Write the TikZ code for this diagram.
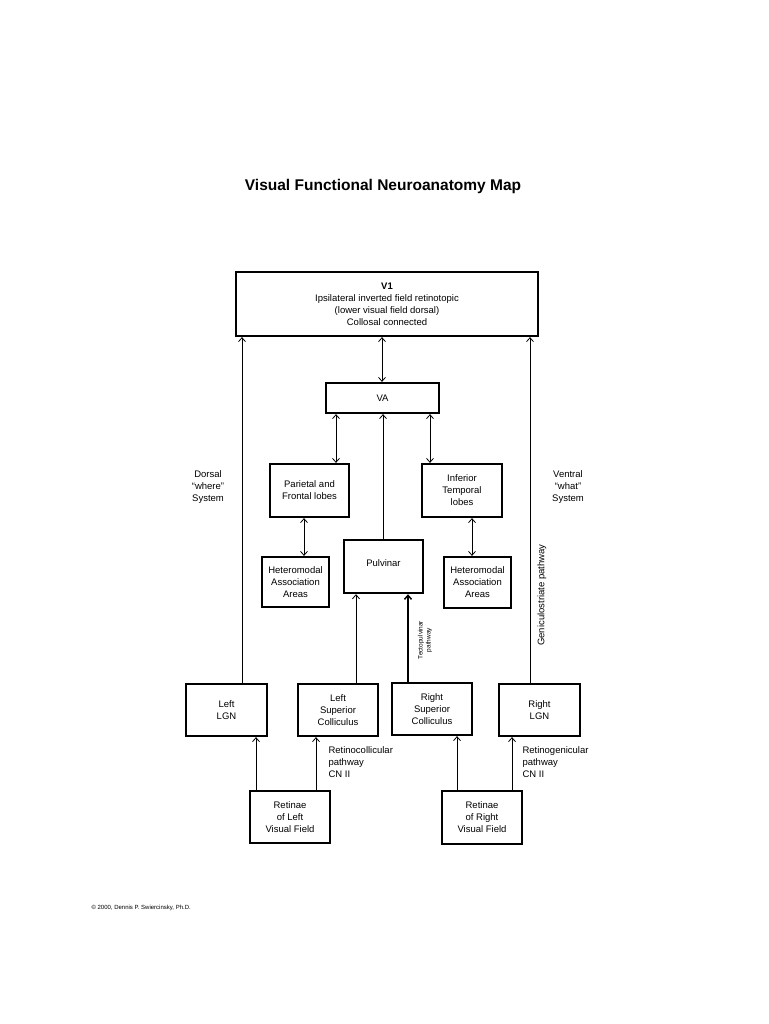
\documentclass[tikz,border=0pt]{standalone}
\usepackage{fontspec}
\setmainfont{Liberation Sans}
\usetikzlibrary{arrows.meta}
\begin{document}
\begin{tikzpicture}[x=1pt,y=-1pt,
  box/.style={draw,line width=2.2pt,align=center,font=\fontsize{9.5}{12}\selectfont},
  lbl/.style={align=center,font=\fontsize{9.5}{12}\selectfont},
  arr/.style={-{Straight Barb[length=4pt,width=7pt]},line width=0.8pt},
  darr/.style={{Straight Barb[length=4pt,width=7pt]}-{Straight Barb[length=4pt,width=7pt]},line width=0.8pt}]
\useasboundingbox (0,0) rectangle (768,1024);
\fill[white] (0,0) rectangle (768,1024);
\node[font=\bfseries\fontsize{15.5}{18}\selectfont] (title) at (383,186) {Visual Functional Neuroanatomy Map};
\node[box,minimum width=302pt,minimum height=64pt] (v1) at (387,304) {\textbf{V1}\\Ipsilateral inverted field retinotopic\\(lower visual field dorsal)\\Collosal connected};
\node[box,minimum width=113pt,minimum height=30pt] (va) at (382.5,398) {VA};
\node[box,minimum width=79pt,minimum height=53pt] (par) at (309.5,490.5) {Parietal and\\Frontal lobes};
\node[box,minimum width=80pt,minimum height=53pt] (it) at (462,490.5) {Inferior\\Temporal\\lobes};
\node[box,minimum width=67pt,minimum height=50pt] (hl) at (295.5,582) {Heteromodal\\Association\\Areas};
\node[box,minimum width=79pt,minimum height=53pt,anchor=north] (pul) at (383.5,539) {};
\node[lbl] (pult) at (383.5,563) {Pulvinar};
\node[box,minimum width=67pt,minimum height=51pt] (hr) at (477.5,582.5) {Heteromodal\\Association\\Areas};
\node[box,minimum width=81pt,minimum height=52pt] (llgn) at (226.5,710) {Left\\LGN};
\node[box,minimum width=80pt,minimum height=52pt] (lsc) at (338,710) {Left\\Superior\\Colliculus};
\node[box,minimum width=80pt,minimum height=52pt] (rsc) at (432,709) {Right\\Superior\\Colliculus};
\node[box,minimum width=81pt,minimum height=52pt] (rlgn) at (539.5,710) {Right\\LGN};
\node[box,minimum width=80pt,minimum height=52pt] (retl) at (290,817) {Retinae\\of Left\\Visual Field};
\node[box,minimum width=80pt,minimum height=53pt] (retr) at (482,817.5) {Retinae\\of Right\\Visual Field};
% connectors
\draw[arr] (llgn.north -| 242,0) -- (v1.south -| 242,0);
\draw[arr] (rlgn.north -| 530,0) -- (v1.south -| 530,0);
\draw[darr] (v1.south -| 382,0) -- (va.north -| 382,0);
\draw[darr] (va.south -| 336,0) -- (par.north -| 336,0);
\draw[darr] (va.south -| 430,0) -- (it.north -| 430,0);
\draw[arr] (pul.north -| 383,0) -- (va.south -| 383,0);
\draw[darr] (par.south -| 304,0) -- (hl.north -| 304,0);
\draw[darr] (it.south -| 472,0) -- (hr.north -| 472,0);
\draw[arr] (lsc.north -| 356,0) -- (pul.south -| 356,0);
\draw[arr,line width=1.5pt] (rsc.north -| 408,0) -- (pul.south -| 408,0);
\draw[arr] (retl.north -| 256,0) -- (llgn.south -| 256,0);
\draw[arr] (retl.north -| 316,0) -- (lsc.south -| 316,0);
\draw[arr] (retr.north -| 457,0) -- (rsc.south -| 457,0);
\draw[arr] (retr.north -| 512,0) -- (rlgn.south -| 512,0);
% labels
\node[lbl] (dorsal) at (208,487) {Dorsal\\“where”\\System};
\node[lbl] (ventral) at (568,487) {Ventral\\“what”\\System};
\node[lbl,rotate=90] (gen) at (542,595) {Geniculostriate pathway};
\node[align=center,rotate=90,font=\fontsize{6.5}{8}\selectfont] (tecto) at (425,640) {Tectopulvinar\\pathway};
\node[lbl,align=left,anchor=north west] (rc) at (325,743) {Retinocollicular\\pathway\\CN II};
\node[lbl,align=left,anchor=north west] (rg) at (519,743) {Retinogenicular\\pathway\\CN II};
\node[font=\fontsize{6}{7}\selectfont,anchor=west] (copy) at (88,908) {© 2000, Dennis P. Swiercinsky, Ph.D.};
\end{tikzpicture}
\end{document}
